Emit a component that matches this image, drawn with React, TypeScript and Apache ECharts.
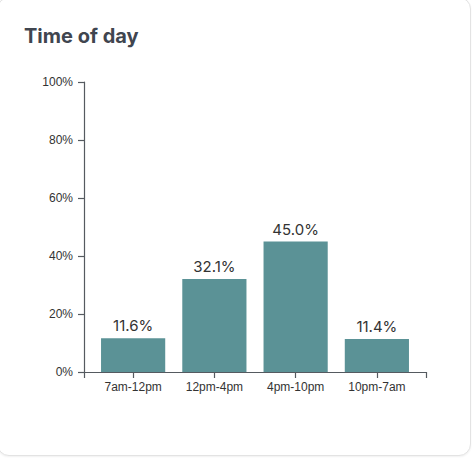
import React, { useEffect, useRef } from "react";
import * as echarts from "echarts";

const categories = ["7am-12pm", "12pm-4pm", "4pm-10pm", "10pm-7am"];
const shares = [11.6, 32.1, 45.0, 11.4];
const yTicks = [0, 20, 40, 60, 80, 100];

const AXIS_COLOR = "#555a60";
const LABEL_FONT = "'Liberation Sans', Arial, sans-serif";

export default function App() {
  const chartRef = useRef<HTMLDivElement>(null);

  useEffect(() => {
    if (!chartRef.current) return;
    const chart = echarts.init(chartRef.current, null, { renderer: "svg" });

    const option = {
      animation: false,
      title: {
        text: "Time of day",
        left: 24,
        top: 26,
        padding: 0,
        textStyle: {
          fontFamily: "Inter, sans-serif",
          fontWeight: "bold",
          fontSize: 20,
          color: "#40454f",
        },
      },
      grid: [
        // axis frame (y axis + x domain line with outer ticks)
        { left: 84, right: 48, top: 82, bottom: 88 },
        // bars, padded inside the frame
        { left: 92.5, right: 56.5, top: 82, bottom: 88 },
      ],
      xAxis: [
        {
          type: "value",
          gridIndex: 0,
          min: 0,
          max: 1,
          interval: 1,
          axisLine: { show: true, lineStyle: { color: AXIS_COLOR, width: 1.2 } },
          axisTick: { show: true, length: 6, lineStyle: { color: AXIS_COLOR, width: 1.2 } },
          axisLabel: { show: false },
          splitLine: { show: false },
        },
        {
          type: "category",
          gridIndex: 1,
          data: categories,
          axisLine: { show: false },
          axisTick: {
            show: true,
            alignWithLabel: true,
            length: 6,
            lineStyle: { color: AXIS_COLOR, width: 1.2 },
          },
          axisLabel: {
            margin: 9,
            fontSize: 12,
            fontFamily: LABEL_FONT,
            color: "#333",
          },
        },
      ],
      yAxis: [
        {
          type: "value",
          gridIndex: 0,
          min: yTicks[0],
          max: yTicks[yTicks.length - 1],
          interval: 20,
          axisLine: { show: true, lineStyle: { color: AXIS_COLOR, width: 1.2 } },
          axisTick: { show: true, length: 6, lineStyle: { color: AXIS_COLOR, width: 1.2 } },
          axisLabel: {
            margin: 11,
            fontSize: 12,
            fontFamily: LABEL_FONT,
            color: "#333",
            formatter: "{value}%",
          },
          splitLine: { show: false },
        },
        {
          type: "value",
          gridIndex: 1,
          min: yTicks[0],
          max: yTicks[yTicks.length - 1],
          show: false,
        },
      ],
      series: [
        {
          type: "bar",
          xAxisIndex: 1,
          yAxisIndex: 1,
          data: shares,
          barCategoryGap: "21%",
          itemStyle: { color: "#5b9296" },
          label: {
            show: true,
            position: "top",
            distance: 5,
            fontSize: 15,
            fontFamily: "Inter, sans-serif",
            color: "#333",
            formatter: (p: any) => `${p.value.toFixed(1)}%`,
          },
        },
      ],
    };

    chart.setOption(option);
    return () => {
      chart.dispose();
    };
  }, []);

  return (
    <div style={{ position: "fixed", left: 0, top: 0, width: 474, height: 460, background: "#fff" }}>
      <div
        style={{
          position: "absolute",
          left: -3,
          top: -3,
          width: 472,
          height: 457,
          border: "1px solid #e3e3e3",
          borderRadius: 12,
          boxShadow: "0 1px 2px rgba(0,0,0,0.06)",
          background: "#fff",
        }}
      />
      <div ref={chartRef} style={{ position: "absolute", left: 0, top: 0, width: 474, height: 460 }} />
    </div>
  );
}
